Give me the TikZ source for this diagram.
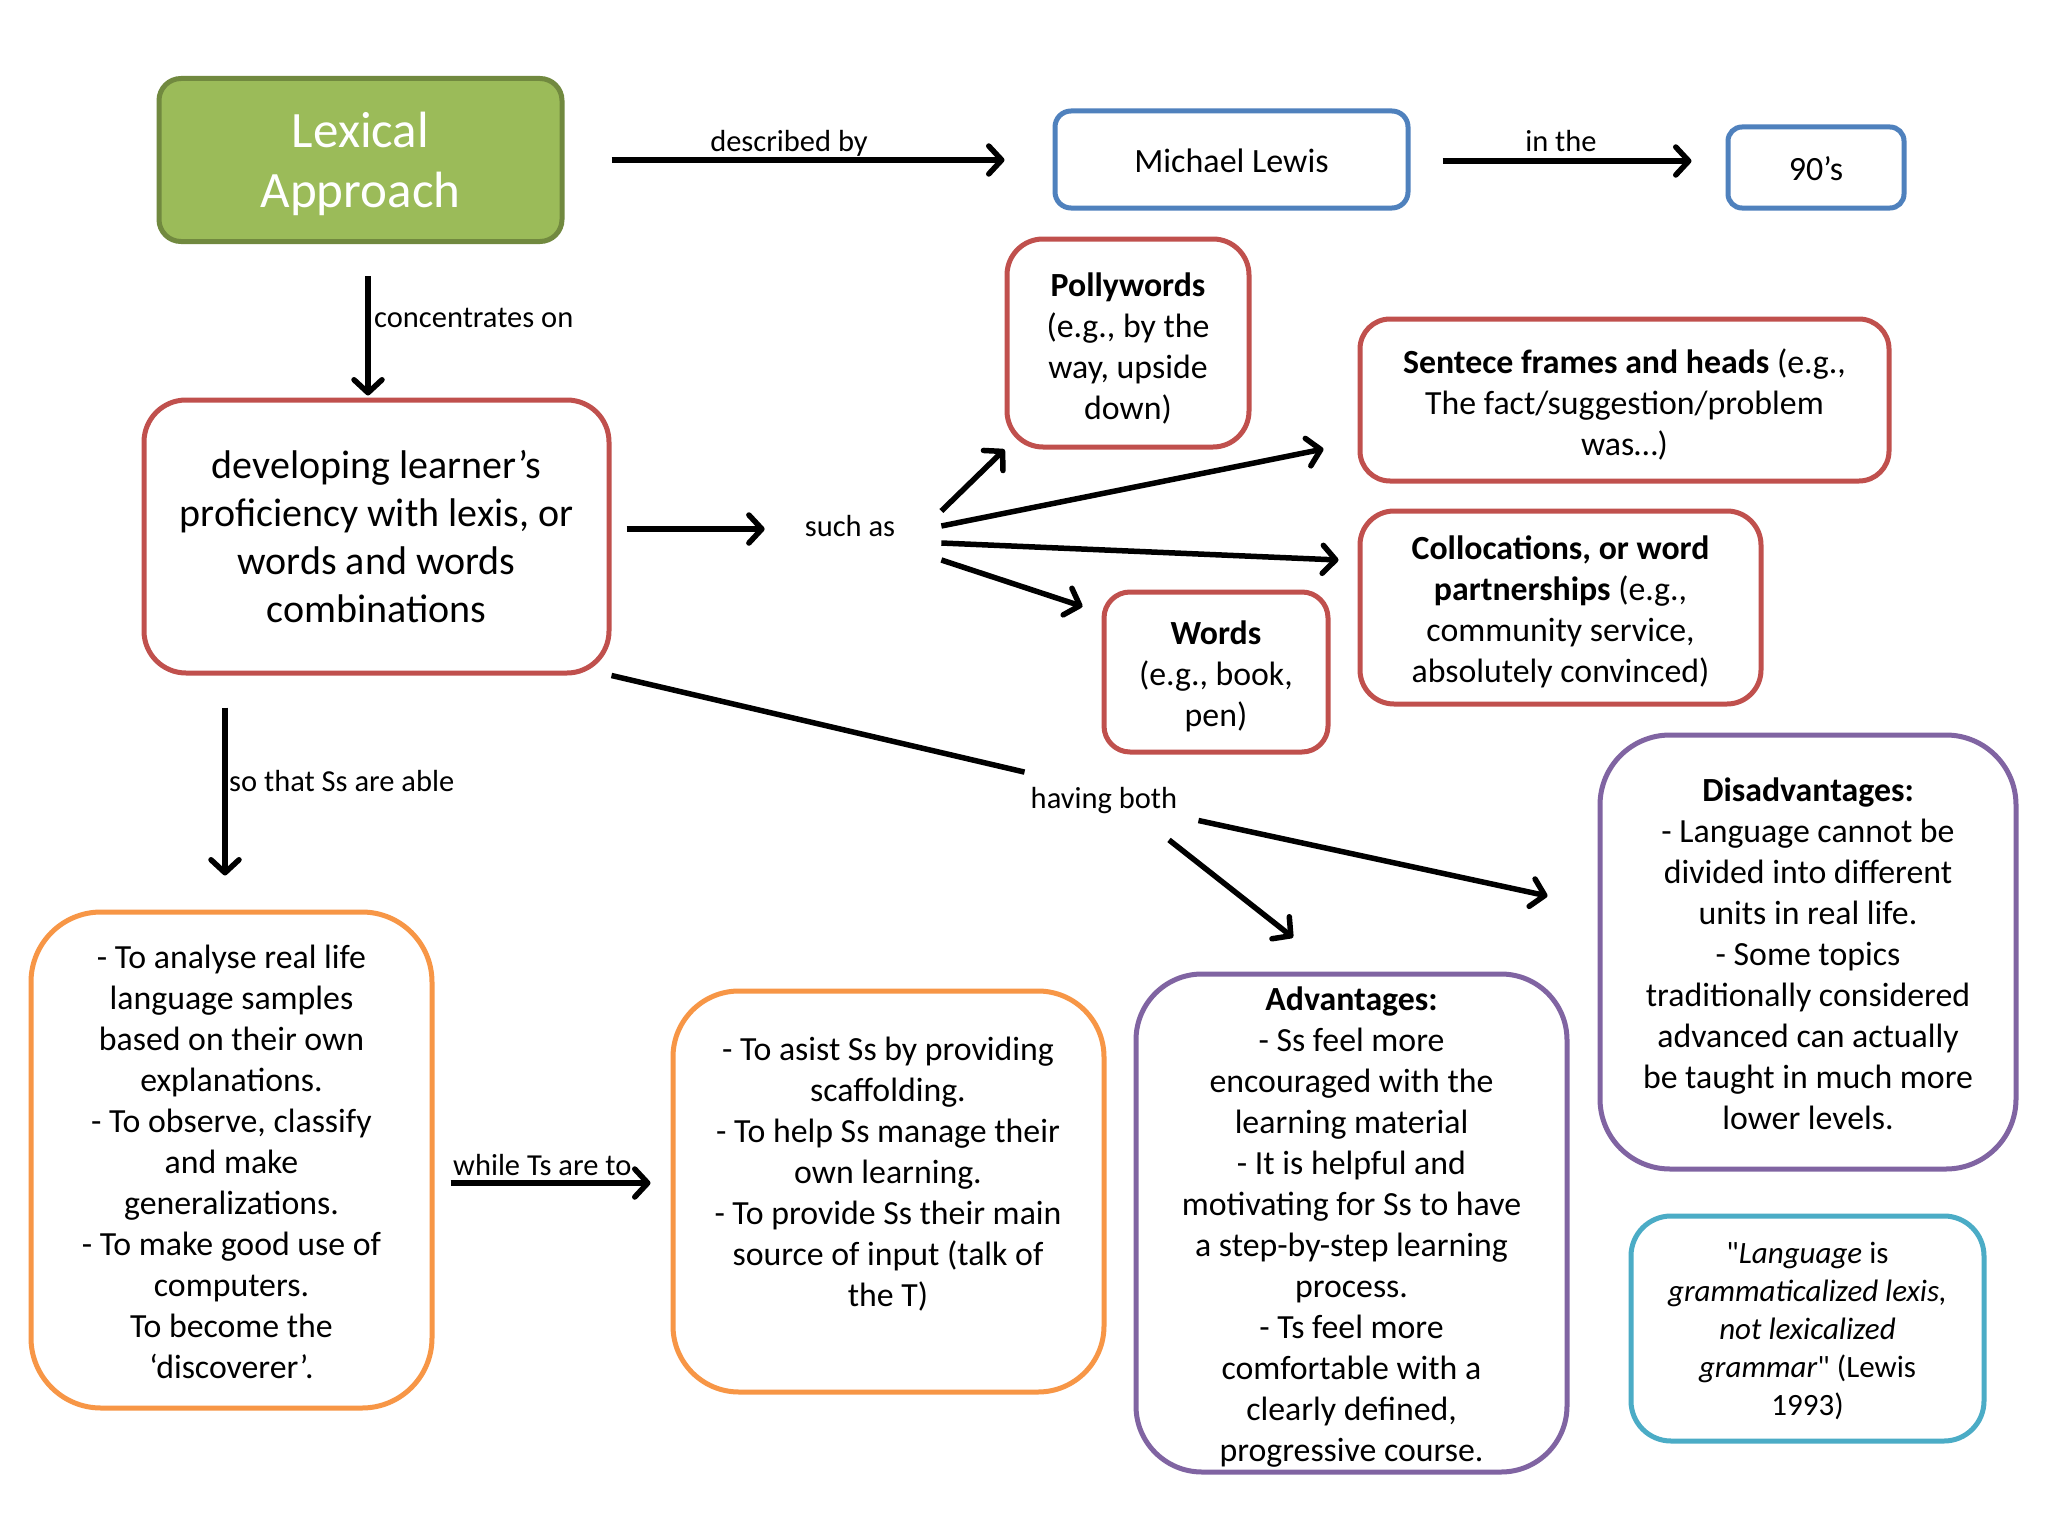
\documentclass[tikz,border=0pt]{standalone}
\usepackage{fontspec}
\setmainfont{Carlito}[Ligatures=TeXOff]
\usetikzlibrary{arrows.meta}
\definecolor{cgreen}{HTML}{9BBB59}
\definecolor{cgreend}{HTML}{71893F}
\definecolor{cblue}{HTML}{4F81BD}
\definecolor{cred}{HTML}{C0504D}
\definecolor{corange}{HTML}{F79646}
\definecolor{cpurple}{HTML}{8064A2}
\definecolor{cteal}{HTML}{4BACC6}
\begin{document}
\begin{tikzpicture}[x=1pt,y=-1pt,
 box/.style={draw, line width=5pt, fill=white, inner sep=0pt},
 arr/.style={line width=5.5pt, -{Straight Barb[length=13pt,width=28pt,line width=5.5pt,round]}},
 lbl/.style={inner sep=0pt, font=\fontsize{30.5}{37}\selectfont},
 sm/.style={font=\fontsize{33.8}{41}\selectfont},
 txt/.style={inner sep=0pt, align=center},
]
\useasboundingbox (0,0) rectangle (2048,1536);
\fill[white] (0,0) rectangle (2048,1536);

% boxes
\node[box, fill=cgreen, draw=cgreend, rounded corners=22pt, minimum width=403pt, minimum height=163pt] (lex) at (360.5,160) {};
\node[box, draw=cblue, rounded corners=16pt, minimum width=353pt, minimum height=97pt] (ml) at (1231.5,159.5) {};
\node[box, draw=cblue, rounded corners=14pt, minimum width=176pt, minimum height=81pt] (n90) at (1816,167.5) {};
\node[box, draw=cred, rounded corners=42pt, minimum width=465pt, minimum height=273pt] (dev) at (376.5,536.5) {};
\node[box, draw=cred, rounded corners=36pt, minimum width=242pt, minimum height=208pt] (poly) at (1128,343) {};
\node[box, draw=cred, rounded corners=30pt, minimum width=529pt, minimum height=162pt] (sent) at (1624.5,400) {};
\node[box, draw=cred, rounded corners=34pt, minimum width=401pt, minimum height=193pt] (coll) at (1560.5,607.5) {};
\node[box, draw=cred, rounded corners=26pt, minimum width=224pt, minimum height=160pt] (words) at (1216,672) {};
\node[box, draw=cpurple, rounded corners=70pt, minimum width=416pt, minimum height=434pt] (dis) at (1808,952) {};
\node[box, draw=cpurple, rounded corners=66pt, minimum width=431pt, minimum height=498pt] (adv) at (1351.5,1223) {};
\node[box, draw=cteal, rounded corners=40pt, minimum width=353pt, minimum height=225pt] (quote) at (1807.5,1328.5) {};
\node[box, draw=corange, rounded corners=70pt, minimum width=401pt, minimum height=496pt] (lb) at (231.5,1160) {};
\node[box, draw=corange, rounded corners=66pt, minimum width=431pt, minimum height=401pt] (mid) at (888.5,1191.5) {};

% box texts
\node[txt, text=white, font=\fontsize{51}{60}\selectfont] (lext) at ([shift={(0,4)}]lex.center) {Lexical\\Approach};
\node[txt, font=\fontsize{34}{41}\selectfont] (mlt) at ([shift={(0,1.5)}]ml.center) {Michael Lewis};
\node[txt, font=\fontsize{34}{41}\selectfont] (n90t) at ([shift={(0,1.5)}]n90.center) {90’s};
\node[txt, font=\fontsize{40}{48}\selectfont] (devt) at (dev.center) {developing learner’s\\proficiency with lexis, or\\words and words\\combinations};
\node[txt, sm] (polyt) at ([shift={(0,5)}]poly.center) {\textbf{Pollywords}\\(e.g., by the\\way, upside\\down)};
\node[txt, sm] (sentt) at ([shift={(0,4)}]sent.center) {\textbf{Sentece frames and heads} (e.g.,\\The fact/suggestion/problem\\was…)};
\node[txt, sm] (collt) at ([shift={(0,4)}]coll.center) {\textbf{Collocations, or word}\\\textbf{partnerships} (e.g.,\\community service,\\absolutely convinced)};
\node[txt, sm] (wordst) at ([shift={(0,4)}]words.center) {\textbf{Words}\\(e.g., book,\\pen)};
\node[txt, sm] (dist) at ([shift={(0,1.5)}]dis.center) {\textbf{Disadvantages:}\\- Language cannot be\\divided into different\\units in real life.\\- Some topics\\traditionally considered\\advanced can actually\\be taught in much more\\lower levels.};
\node[txt, sm] (advt) at ([shift={(0,4.5)}]adv.center) {\textbf{Advantages:}\\- Ss feel more\\encouraged with the\\learning material\\- It is helpful and\\motivating for Ss to have\\a step-by-step learning\\process.\\- Ts feel more\\comfortable with a\\clearly defined,\\progressive course.};
\node[txt, font=\fontsize{31}{38}\selectfont] (quotet) at ([shift={(0,2.5)}]quote.center) {"\textit{Language} is\\\textit{grammaticalized lexis,}\\\textit{not lexicalized}\\\textit{grammar}" (Lewis\\1993)};
\node[txt, sm] (lbt) at ([shift={(0,1.5)}]lb.center) {- To analyse real life\\language samples\\based on their own\\explanations.\\- To observe, classify\\and make\\generalizations.\\- To make good use of\\computers.\\To become the\\‘discoverer’.};
\node[txt, sm] (midt) at ([shift={(-0.5,-17.5)}]mid.center) {- To asist Ss by providing\\scaffolding.\\- To help Ss manage their\\own learning.\\- To provide Ss their main\\source of input (talk of\\the T)};

% labels
\node[lbl] (ldesc) at (789,143.5) {described by};
\node[lbl] (lin) at (1561,141) {in the};
\node[lbl, anchor=west] (lconc) at (374,318) {concentrates on};
\node[lbl] (such) at (850,526) {such as};
\node[lbl] (hav) at (1104,800.5) {having both};
\node[lbl, anchor=west] (lso) at (229,781) {so that Ss are able};
\node[lbl, anchor=west] (lwhile) at (453,1165) {while Ts are to};

% connectors
\draw[arr] ([shift={(47,0)}]lex.east) -- ([shift={(-48,0.5)}]ml.west);
\draw[arr] ([shift={(32,1.5)}]ml.east) -- ([shift={(-34,-6.5)}]n90.west);
\draw[arr] ([shift={(7.5,32)}]lex.south) -- ([shift={(-8.5,-2)}]dev.north);
\draw[arr] ([shift={(15,-7.5)}]dev.east) -- ([shift={(-40,3)}]such.west);
\draw[arr] ([shift={(46,-15)}]such.east) -- (poly.south west);
\draw[arr] ([shift={(46,0)}]such.east) -- ([shift={(-34,49)}]sent.west);
\draw[arr] ([shift={(46,17)}]such.east) -- ([shift={(-19,-47.5)}]coll.west);
\draw[arr] ([shift={(46,34)}]such.east) -- ([shift={(-19,17)}]words.north west);
\draw[line width=5.5pt] (dev.south east) -- ([shift={(-6,-15)}]hav.north west);
\draw[arr] ([shift={(21,20)}]hav.east) -- ([shift={(-50,-56)}]dis.west);
\draw[arr] ([shift={(65,26)}]hav.south) -- ([shift={(-58.5,-34)}]adv.north);
\draw[arr] ([shift={(-151.5,32)}]dev.south) -- ([shift={(-6.5,-34)}]lb.north);
\draw[arr] ([shift={(16,23)}]lb.east) -- ([shift={(-20,-8.5)}]mid.west);
\end{tikzpicture}
\end{document}
